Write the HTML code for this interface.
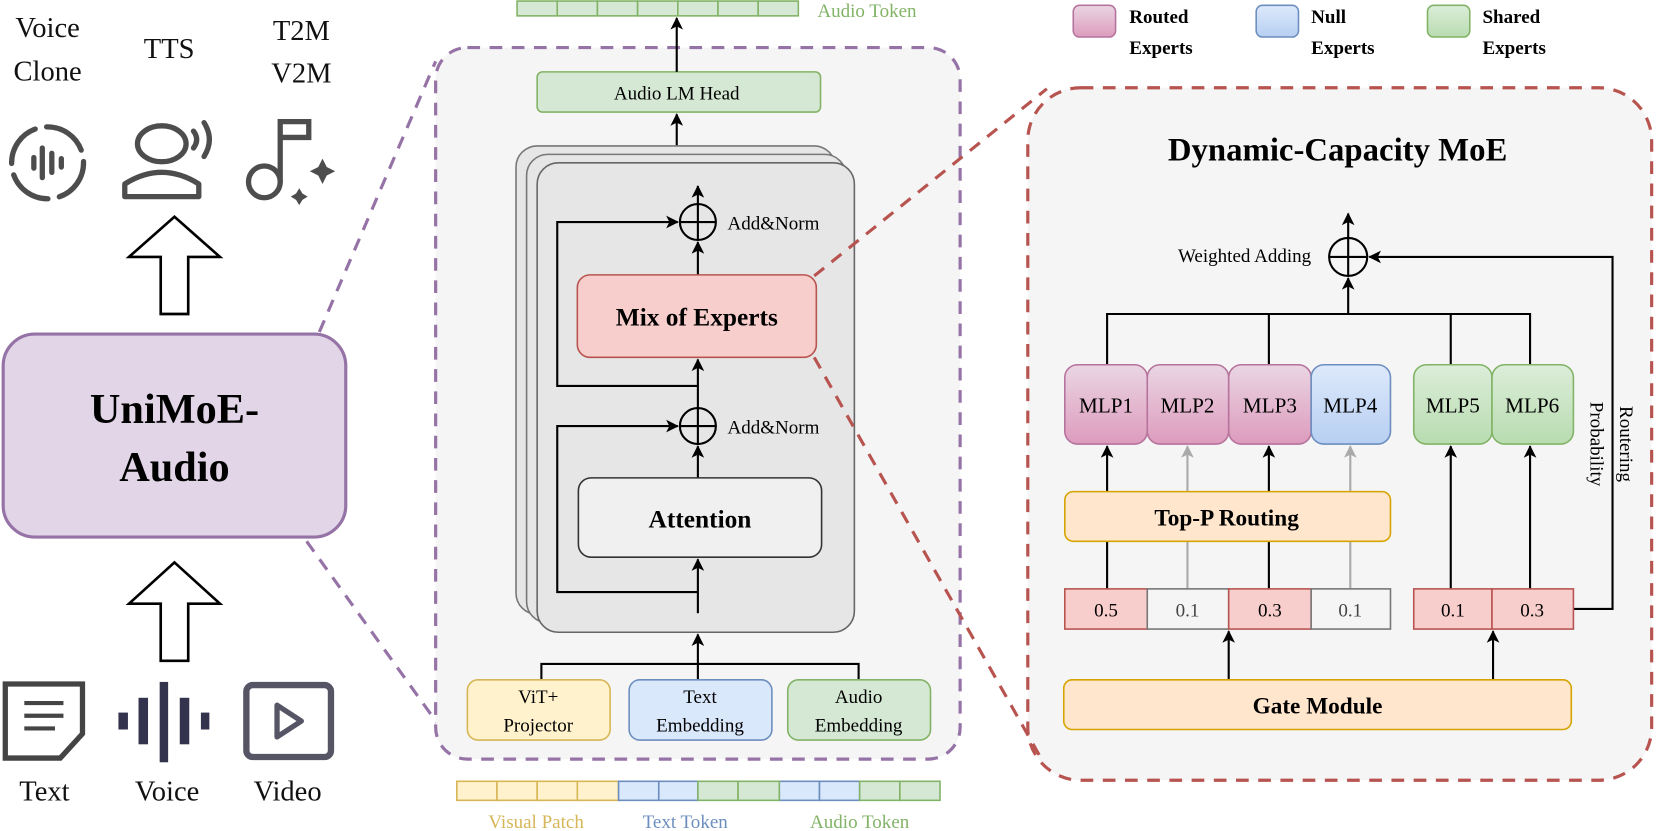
<!DOCTYPE html>
<html><head><meta charset="utf-8"><style>html,body{margin:0;padding:0;background:#fff}svg{display:block}</style></head>
<body>
<svg width="1658" height="831" viewBox="0 0 1568 786" preserveAspectRatio="none" xmlns="http://www.w3.org/2000/svg" font-family="Liberation Serif, serif">
<defs>
<marker id="ah" markerWidth="12" markerHeight="12" refX="11" refY="6" orient="auto" markerUnits="userSpaceOnUse"><path d="M0,0 L12,6 L0,12 L3,6 Z" fill="#000"/></marker>
<marker id="ahg" markerWidth="12" markerHeight="12" refX="11" refY="6" orient="auto" markerUnits="userSpaceOnUse"><path d="M0,0 L12,6 L0,12 L3,6 Z" fill="#aaa"/></marker>
<linearGradient id="gp" x1="0" y1="0" x2="0" y2="1"><stop offset="0" stop-color="#ead6e3"/><stop offset="1" stop-color="#dd9bbd"/></linearGradient>
<linearGradient id="gb" x1="0" y1="0" x2="0" y2="1"><stop offset="0" stop-color="#dde9fb"/><stop offset="1" stop-color="#b7cff2"/></linearGradient>
<linearGradient id="gg" x1="0" y1="0" x2="0" y2="1"><stop offset="0" stop-color="#dcedd9"/><stop offset="1" stop-color="#b8dcb0"/></linearGradient>
</defs>

<!-- LEFT -->
<g font-size="27" text-anchor="middle" fill="#111">
<text x="45" y="35">Voice</text><text x="45" y="76">Clone</text>
<text x="160" y="55">TTS</text>
<text x="285" y="38">T2M</text><text x="285" y="78">V2M</text>
<text x="42" y="757">Text</text><text x="158" y="757">Voice</text><text x="272" y="757">Video</text>
</g>
<g stroke="#4d4d4d" stroke-width="5" fill="none" stroke-linecap="round">
<circle cx="45" cy="154" r="34" stroke-dasharray="42 11"/>
<line x1="32" y1="149" x2="32" y2="159"/><line x1="40" y1="140" x2="40" y2="168"/><line x1="49" y1="145" x2="49" y2="163"/><line x1="58" y1="150" x2="58" y2="158"/>
<ellipse cx="153" cy="136" rx="23" ry="17"/>
<path d="M118,186 L118,174 Q153,152 188,174 L188,186 Z" stroke-linejoin="round"/>
<path d="M183,124 Q189,132 183,140"/><path d="M193,116 Q203,132 193,148"/>
<circle cx="250" cy="172" r="15"/><path d="M265,172 L265,115 L292,115 L292,130 L265,130"/>
</g>
<path d="M305,150 l4,8 l8,4 l-8,4 l-4,8 l-4,-8 l-8,-4 l8,-4 z" fill="#4d4d4d"/>
<path d="M283,178 l3,5 l5,3 l-5,3 l-3,5 l-3,-5 l-5,-3 l5,-3 z" fill="#4d4d4d"/>
<path d="M165,205 L208,243 L178,243 L178,297 L152,297 L152,243 L122,243 Z" fill="#fff" stroke="#000" stroke-width="2.5"/>
<path d="M165,532 L208,571 L178,571 L178,625 L152,625 L152,571 L122,571 Z" fill="#fff" stroke="#000" stroke-width="2.5"/>
<rect x="3" y="316" width="324" height="192" rx="30" fill="#e1d5e7" stroke="#9673a6" stroke-width="3"/>
<text x="165" y="400" font-size="40" font-weight="bold" text-anchor="middle">UniMoE-</text>
<text x="165" y="455" font-size="40" font-weight="bold" text-anchor="middle">Audio</text>
<path d="M5,647 L78,647 L78,694 L57,717 L5,717 Z" fill="none" stroke="#444" stroke-width="5"/>
<g stroke="#444" stroke-width="4"><line x1="23" y1="665" x2="60" y2="665"/><line x1="23" y1="677" x2="60" y2="677"/><line x1="23" y1="689" x2="52" y2="689"/></g>
<g fill="#33334d"><rect x="112" y="674" width="9" height="16"/><rect x="131" y="660" width="9" height="44"/><rect x="151" y="645" width="8" height="76"/><rect x="170" y="660" width="9" height="44"/><rect x="190" y="674" width="8" height="16"/></g>
<rect x="233" y="648" width="80" height="68" rx="6" fill="none" stroke="#555566" stroke-width="6"/>
<path d="M262,667 L285,682 L262,697 Z" fill="none" stroke="#555566" stroke-width="5" stroke-linejoin="round"/>
<g stroke="#9673a6" stroke-width="3" stroke-dasharray="12 9" fill="none">
<line x1="302" y1="314" x2="412" y2="58"/><line x1="290" y1="512" x2="425" y2="700"/>
</g>

<!-- MIDDLE -->
<rect x="412" y="45" width="496" height="673" rx="30" fill="#f5f5f5" stroke="#9673a6" stroke-width="3" stroke-dasharray="12 9"/>
<g fill="#d5e8d4" stroke="#82b366" stroke-width="1.5">
<rect x="489" y="1" width="38" height="14"/><rect x="527" y="1" width="38" height="14"/><rect x="565" y="1" width="38" height="14"/><rect x="603" y="1" width="38" height="14"/><rect x="641" y="1" width="38" height="14"/><rect x="679" y="1" width="38" height="14"/><rect x="717" y="1" width="38" height="14"/>
</g>
<text x="773" y="16" font-size="18" fill="#82b366">Audio Token</text>
<rect x="508" y="68" width="268" height="38" rx="5" fill="#d5e8d4" stroke="#82b366" stroke-width="1.5"/>
<text x="640" y="94" font-size="18" text-anchor="middle">Audio LM Head</text>
<line x1="640" y1="68" x2="640" y2="17" stroke="#000" stroke-width="2" marker-end="url(#ah)"/>
<line x1="640" y1="138" x2="640" y2="108" stroke="#000" stroke-width="2" marker-end="url(#ah)"/>
<rect x="488" y="138" width="302" height="443" rx="20" fill="#e6e6e6" stroke="#777" stroke-width="1.5"/>
<rect x="498" y="146" width="302" height="443" rx="20" fill="#e6e6e6" stroke="#777" stroke-width="1.5"/>
<rect x="508" y="154" width="300" height="444" rx="20" fill="#e6e6e6" stroke="#666" stroke-width="1.5"/>
<g stroke="#000" stroke-width="2" fill="none">
<circle cx="660" cy="210" r="17"/><line x1="643" y1="210" x2="677" y2="210"/><line x1="660" y1="193" x2="660" y2="227"/>
<line x1="660" y1="193" x2="660" y2="176" marker-end="url(#ah)"/>
<line x1="660" y1="260" x2="660" y2="229" marker-end="url(#ah)"/>
<polyline points="660,365 527,365 527,210 641,210" marker-end="url(#ah)"/>
<circle cx="660" cy="403" r="17"/><line x1="643" y1="403" x2="677" y2="403"/><line x1="660" y1="386" x2="660" y2="420"/>
<line x1="660" y1="386" x2="660" y2="340" marker-end="url(#ah)"/>
<line x1="660" y1="452" x2="660" y2="422" marker-end="url(#ah)"/>
<polyline points="660,560 527,560 527,403 641,403" marker-end="url(#ah)"/>
<line x1="660" y1="580" x2="660" y2="529" marker-end="url(#ah)"/>
<polyline points="512,643 512,628 812,628 812,643"/>
<line x1="660" y1="643" x2="660" y2="600" marker-end="url(#ah)"/>
</g>
<text x="688" y="217" font-size="18">Add&amp;Norm</text>
<text x="688" y="410" font-size="18">Add&amp;Norm</text>
<rect x="546" y="260" width="226" height="78" rx="12" fill="#f8cecc" stroke="#b85450" stroke-width="1.5"/>
<text x="659" y="308" font-size="24" font-weight="bold" text-anchor="middle">Mix of Experts</text>
<rect x="547" y="452" width="230" height="75" rx="12" fill="#f0f0f0" stroke="#333" stroke-width="1.5"/>
<text x="662" y="499" font-size="24" font-weight="bold" text-anchor="middle">Attention</text>
<rect x="442" y="643" width="135" height="57" rx="10" fill="#fff2cc" stroke="#d6b656" stroke-width="1.5"/>
<rect x="595" y="643" width="135" height="57" rx="10" fill="#dae8fc" stroke="#6c8ebf" stroke-width="1.5"/>
<rect x="745" y="643" width="135" height="57" rx="10" fill="#d5e8d4" stroke="#82b366" stroke-width="1.5"/>
<g font-size="18" text-anchor="middle">
<text x="509" y="665">ViT+</text><text x="509" y="692">Projector</text>
<text x="662" y="665">Text</text><text x="662" y="692">Embedding</text>
<text x="812" y="665">Audio</text><text x="812" y="692">Embedding</text>
</g>
<g stroke-width="1.5">
<g fill="#fff2cc" stroke="#d6b656"><rect x="432" y="739" width="38" height="18"/><rect x="470" y="739" width="38" height="18"/><rect x="508" y="739" width="38" height="18"/><rect x="546" y="739" width="39" height="18"/></g>
<g fill="#dae8fc" stroke="#6c8ebf"><rect x="585" y="739" width="38" height="18"/><rect x="623" y="739" width="37" height="18"/><rect x="737" y="739" width="38" height="18"/><rect x="775" y="739" width="38" height="18"/></g>
<g fill="#d5e8d4" stroke="#82b366"><rect x="660" y="739" width="38" height="18"/><rect x="698" y="739" width="39" height="18"/><rect x="813" y="739" width="38" height="18"/><rect x="851" y="739" width="38" height="18"/></g>
</g>
<g font-size="18" text-anchor="middle">
<text x="507" y="783" fill="#d6b656">Visual Patch</text>
<text x="648" y="783" fill="#6c8ebf">Text Token</text>
<text x="813" y="783" fill="#82b366">Audio Token</text>
</g>

<!-- RIGHT -->
<rect x="972" y="83" width="590" height="655" rx="50" fill="#f5f5f5" stroke="#b85450" stroke-width="3" stroke-dasharray="12 9"/>
<g stroke="#b85450" stroke-width="3" stroke-dasharray="12 9" fill="none">
<line x1="770" y1="261" x2="990" y2="84"/><line x1="770" y1="338" x2="985" y2="718"/>
</g>
<rect x="1015" y="5" width="40" height="30" rx="6" fill="url(#gp)" stroke="#b5739d" stroke-width="1.5"/>
<rect x="1188" y="5" width="40" height="30" rx="6" fill="url(#gb)" stroke="#6c8ebf" stroke-width="1.5"/>
<rect x="1350" y="5" width="40" height="30" rx="6" fill="url(#gg)" stroke="#82b366" stroke-width="1.5"/>
<g font-size="18" font-weight="bold">
<text x="1068" y="22">Routed</text><text x="1068" y="51">Experts</text>
<text x="1240" y="22">Null</text><text x="1240" y="51">Experts</text>
<text x="1402" y="22">Shared</text><text x="1402" y="51">Experts</text>
</g>
<text x="1265" y="152" font-size="31" font-weight="bold" text-anchor="middle">Dynamic-Capacity MoE</text>
<text x="1240" y="248" font-size="18" text-anchor="end">Weighted Adding</text>
<g stroke="#000" stroke-width="2" fill="none">
<circle cx="1275" cy="243" r="18"/><line x1="1257" y1="243" x2="1293" y2="243"/><line x1="1275" y1="225" x2="1275" y2="261"/>
<line x1="1275" y1="225" x2="1275" y2="202" marker-end="url(#ah)"/>
<line x1="1275" y1="297" x2="1275" y2="263" marker-end="url(#ah)"/>
<polyline points="1047,345 1047,297 1447,297 1447,345"/>
<line x1="1200" y1="297" x2="1200" y2="345"/><line x1="1372" y1="297" x2="1372" y2="345"/>
<polyline points="1488,576 1525,576 1525,243 1295,243" marker-end="url(#ah)"/>
<line x1="1047" y1="465" x2="1047" y2="422" marker-end="url(#ah)"/>
<line x1="1200" y1="465" x2="1200" y2="422" marker-end="url(#ah)"/>
<line x1="1372" y1="557" x2="1372" y2="422" marker-end="url(#ah)"/>
<line x1="1447" y1="557" x2="1447" y2="422" marker-end="url(#ah)"/>
<line x1="1047" y1="557" x2="1047" y2="512"/><line x1="1200" y1="557" x2="1200" y2="512"/>
<line x1="1162" y1="643" x2="1162" y2="597" marker-end="url(#ah)"/>
<line x1="1412" y1="643" x2="1412" y2="597" marker-end="url(#ah)"/>
</g>
<g stroke="#aaa" stroke-width="2" fill="none">
<line x1="1123" y1="465" x2="1123" y2="422" marker-end="url(#ahg)"/>
<line x1="1277" y1="465" x2="1277" y2="422" marker-end="url(#ahg)"/>
<line x1="1123" y1="557" x2="1123" y2="512"/><line x1="1277" y1="557" x2="1277" y2="512"/>
</g>
<g text-anchor="middle" font-size="18" transform="rotate(90 1512 420)"><text x="1512" y="400">Routering</text><text x="1512" y="428">Probability</text></g>
<g stroke-width="1.5">
<rect x="1007" y="345" width="78" height="75" rx="12" fill="url(#gp)" stroke="#b5739d"/>
<rect x="1085" y="345" width="77" height="75" rx="12" fill="url(#gp)" stroke="#b5739d"/>
<rect x="1162" y="345" width="78" height="75" rx="12" fill="url(#gp)" stroke="#b5739d"/>
<rect x="1240" y="345" width="75" height="75" rx="12" fill="url(#gb)" stroke="#6c8ebf"/>
<rect x="1337" y="345" width="74" height="75" rx="12" fill="url(#gg)" stroke="#82b366"/>
<rect x="1411" y="345" width="77" height="75" rx="12" fill="url(#gg)" stroke="#82b366"/>
</g>
<g font-size="20" text-anchor="middle">
<text x="1046" y="390">MLP1</text><text x="1123" y="390">MLP2</text><text x="1201" y="390">MLP3</text><text x="1277" y="390">MLP4</text><text x="1374" y="390">MLP5</text><text x="1449" y="390">MLP6</text>
</g>
<rect x="1007" y="465" width="308" height="47" rx="8" fill="#ffe6cc" stroke="#d6a400" stroke-width="1.5"/>
<text x="1160" y="497" font-size="22" font-weight="bold" text-anchor="middle">Top-P Routing</text>
<g stroke-width="1.5">
<rect x="1007" y="557" width="78" height="38" fill="#f8cecc" stroke="#b85450"/>
<rect x="1085" y="557" width="77" height="38" fill="#f5f5f5" stroke="#777"/>
<rect x="1162" y="557" width="78" height="38" fill="#f8cecc" stroke="#b85450"/>
<rect x="1240" y="557" width="75" height="38" fill="#f5f5f5" stroke="#777"/>
<rect x="1337" y="557" width="74" height="38" fill="#f8cecc" stroke="#b85450"/>
<rect x="1411" y="557" width="77" height="38" fill="#f8cecc" stroke="#b85450"/>
</g>
<g font-size="18" text-anchor="middle">
<text x="1046" y="583">0.5</text><text x="1123" y="583" fill="#444">0.1</text><text x="1201" y="583">0.3</text><text x="1277" y="583" fill="#444">0.1</text><text x="1374" y="583">0.1</text><text x="1449" y="583">0.3</text>
</g>
<rect x="1006" y="643" width="480" height="47" rx="8" fill="#ffe6cc" stroke="#d6a400" stroke-width="1.5"/>
<text x="1246" y="675" font-size="22" font-weight="bold" text-anchor="middle">Gate Module</text>
</svg>
</body></html>
